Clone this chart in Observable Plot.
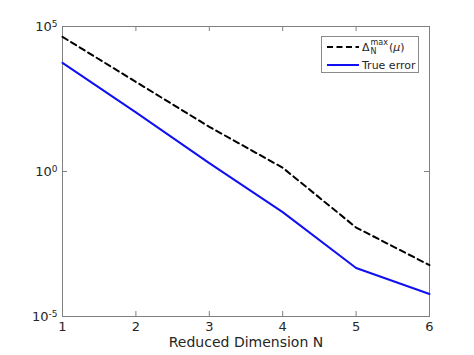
<!DOCTYPE html>
<html><head><meta charset="utf-8">
<script src="https://cdn.jsdelivr.net/npm/d3@7"></script>
<script src="https://cdn.jsdelivr.net/npm/@observablehq/plot@0.6"></script>
<style>
html,body{margin:0;padding:0;background:#fff;}
#wrap{position:relative;width:474px;height:355px;font-family:"DejaVu Sans",sans-serif;}
#legend{position:absolute;left:321px;top:36px;width:96px;height:35px;border:1px solid #8a8a8a;background:#fff;font-size:11px;color:#262626;box-sizing:content-box;}
#legend .row{position:absolute;left:4px;height:16px;display:flex;align-items:center;white-space:nowrap;}
#legend svg{display:block;margin-right:2px;}
.ss{display:inline-flex;flex-direction:column;vertical-align:middle;font-size:8px;line-height:9px;margin:0 1px;}
</style></head><body><div id="wrap"></div>
<script>
const N = [1, 2, 3, 4, 5, 6];
const errorBound = [4.4e4, 1.23e3, 34.7, 1.35, 1.17e-2, 5.9e-4];
const trueError = [5.6e3, 110, 1.95, 0.0398, 4.7e-4, 6.0e-5];
const xTicks = [1, 2, 3, 4, 5, 6];
const yTicks = [1e-5, 1, 1e5];
const xLabel = "Reduced Dimension N";
const legendTrue = "True error";

const rows = N.map((n, i) => ({N: n, bound: errorBound[i], err: trueError[i]}));
const axisGray = "#808080";
const textColor = "#262626";

const chart = Plot.plot({
  width: 474, height: 355,
  marginLeft: 62, marginRight: 45, marginTop: 26, marginBottom: 39,
  style: {fontFamily: "DejaVu Sans", fontSize: "13px", color: textColor, background: "#fff"},
  x: {domain: [1, 6]},
  y: {type: "log", domain: [1e-5, 1e5]},
  marks: [
    Plot.frame({stroke: axisGray, strokeWidth: 1}),
    Plot.tickX(xTicks, {x: d => d, stroke: axisGray, insetTop: 285}),
    Plot.tickX(xTicks, {x: d => d, stroke: axisGray, insetBottom: 285}),
    Plot.tickY(yTicks, {y: d => d, stroke: axisGray, insetRight: 362}),
    Plot.tickY(yTicks, {y: d => d, stroke: axisGray, insetLeft: 362}),
    Plot.axisX(xTicks, {tickSize: 0, tickPadding: 5, fill: textColor, fontSize: 13, label: null}),
    Plot.axisX({tickSize: 0, ticks: [], fill: textColor, fontSize: 14,
      label: xLabel, labelAnchor: "center", labelArrow: "none", labelOffset: 30}),
    Plot.axisY(yTicks, {tickSize: 0, tickPadding: 5, fill: textColor, fontSize: 13,
      tickFormat: d => "10^" + Math.round(Math.log10(d)), label: null}),
    Plot.lineY(rows, {x: "N", y: "bound", stroke: "#000", strokeWidth: 2, strokeDasharray: "6,4"}),
    Plot.lineY(rows, {x: "N", y: "err", stroke: "#1010f0", strokeWidth: 2})
  ]
});

// superscript exponents on the y tick labels
d3.select(chart).selectAll('g[aria-label="y-axis tick label"] text').each(function() {
  const t = d3.select(this);
  const s = t.text();
  const [base, exp] = s.split("^");
  t.text(null);
  t.append("tspan").text(base);
  t.append("tspan").attr("dy", "-0.45em").attr("font-size", "9px").text(exp);
});

document.getElementById("wrap").appendChild(chart);

// legend
const legend = document.createElement("div");
legend.id = "legend";
legend.innerHTML = `
  <div class="row" style="top:2px"><svg width="34" height="12"><line x1="1" y1="6" x2="33" y2="6" stroke="#000" stroke-width="2" stroke-dasharray="6,3.5"/></svg><span>Δ</span><span class="ss"><span>max</span><span>N</span></span><span>(<i>μ</i>)</span></div>
  <div class="row" style="top:20px"><svg width="34" height="12"><line x1="1" y1="6" x2="33" y2="6" stroke="#1010f0" stroke-width="2"/></svg><span></span></div>`;
legend.querySelectorAll(".row")[1].lastElementChild.textContent = legendTrue;
document.getElementById("wrap").appendChild(legend);
</script>
</body></html>
